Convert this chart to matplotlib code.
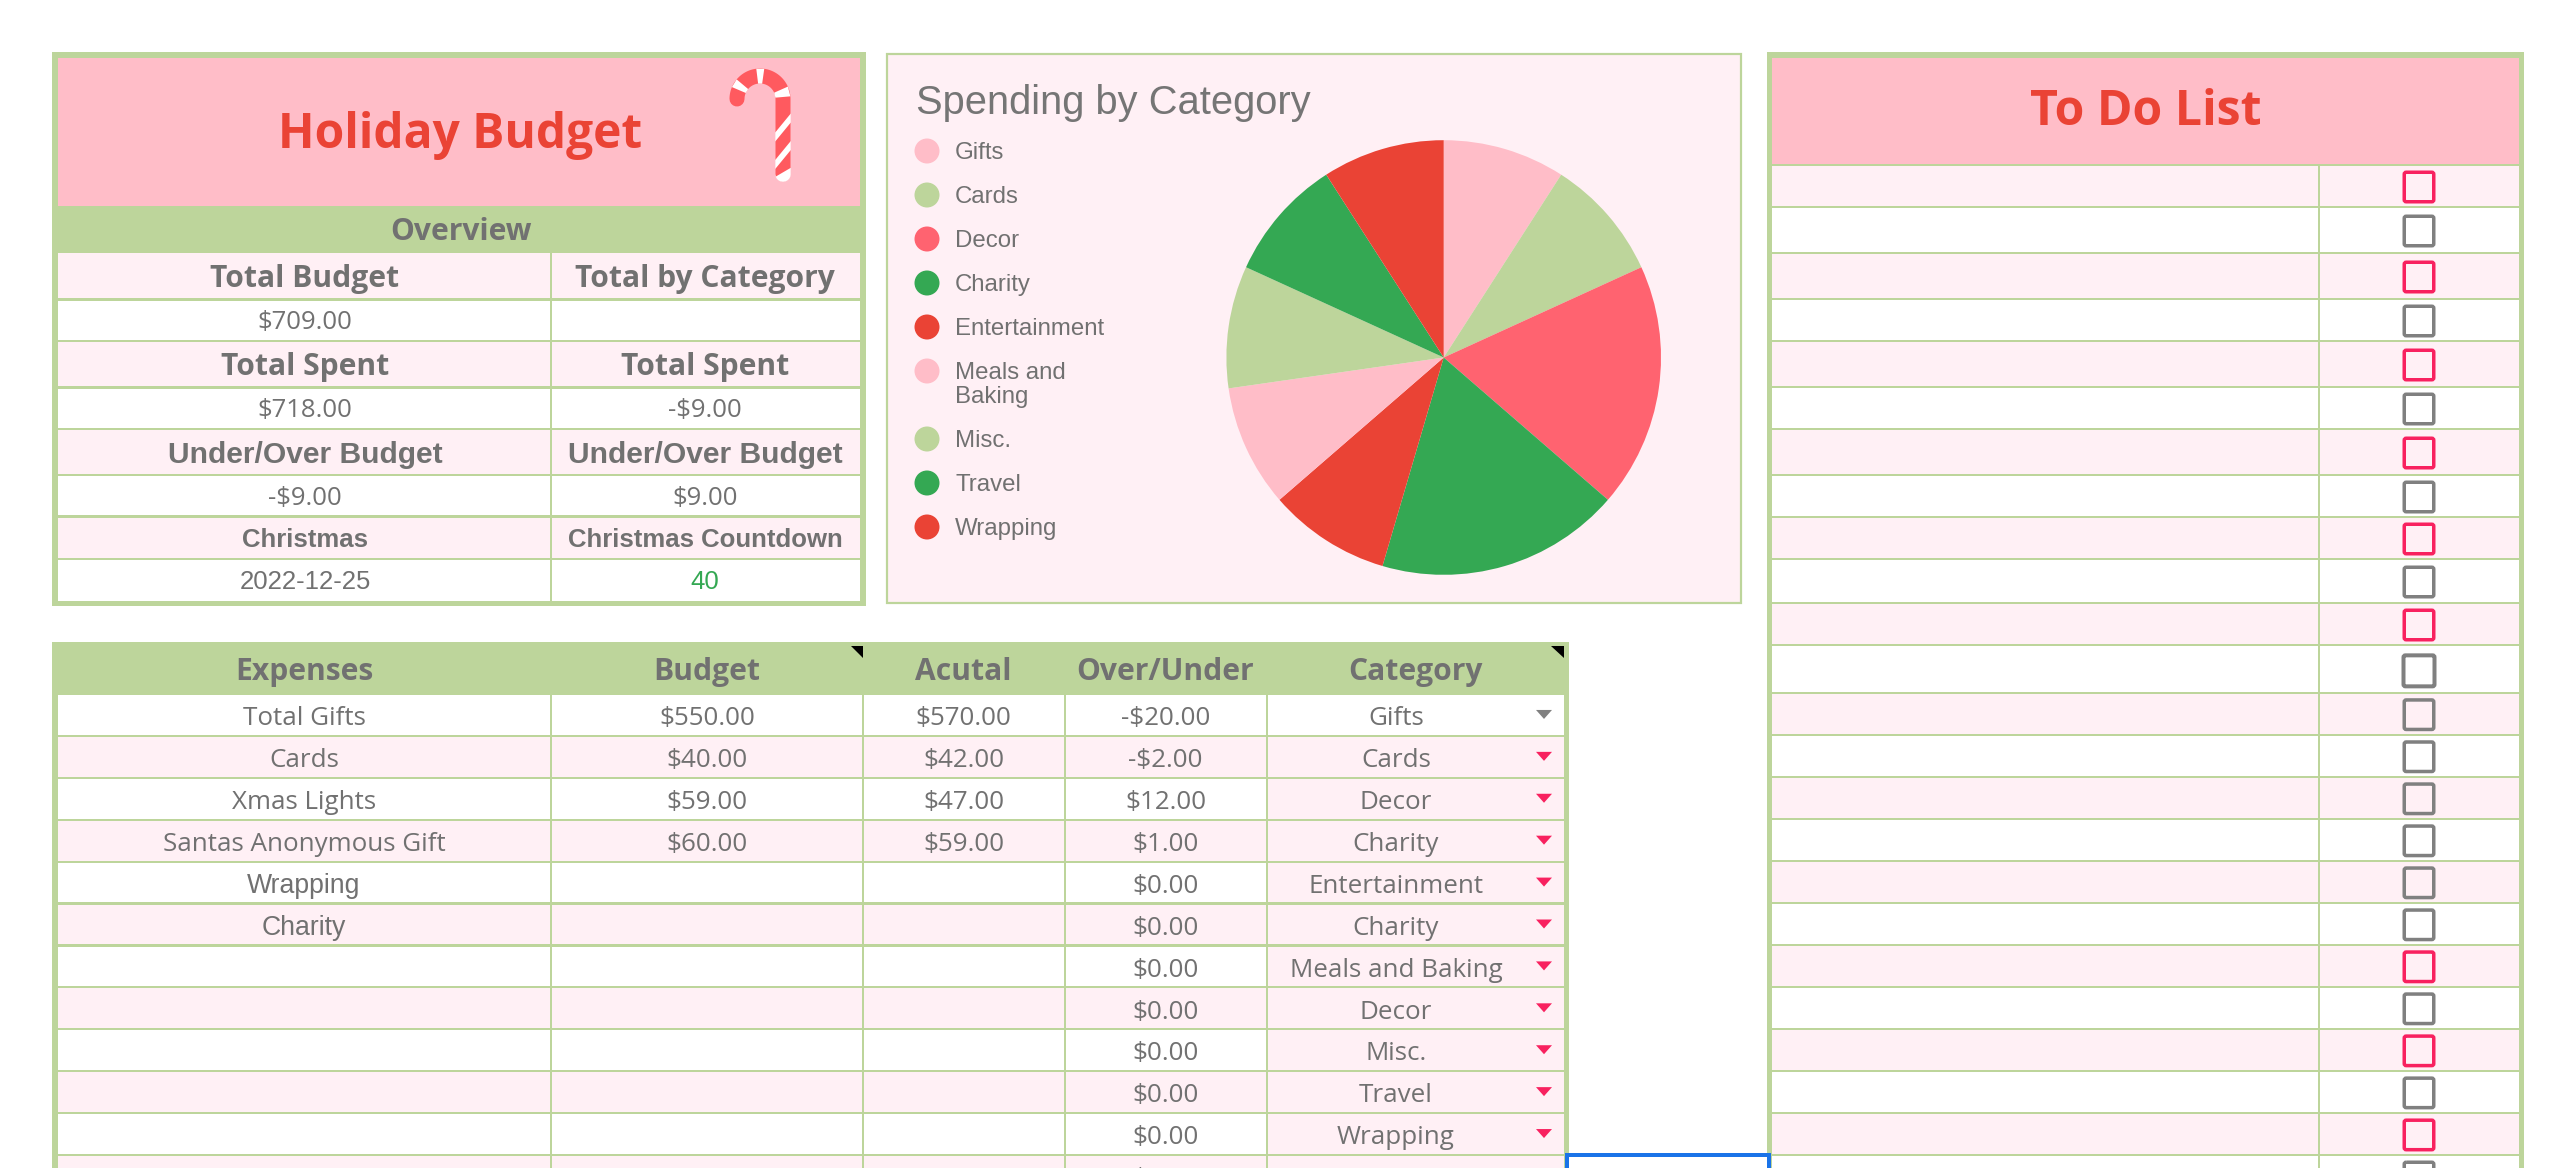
import matplotlib
matplotlib.use('Agg')
import matplotlib.pyplot as plt
from matplotlib.patches import Rectangle, Circle, Polygon, FancyBboxPatch
import numpy as np

# data
categories = ['Gifts', 'Cards', 'Decor', 'Charity', 'Entertainment', 'Meals and\nBaking', 'Misc.', 'Travel', 'Wrapping']
category_counts = [1, 1, 2, 2, 1, 1, 1, 1, 1]

overview_left = ['Total Budget', '$709.00', 'Total Spent', '$718.00', 'Under/Over Budget', '-$9.00', 'Christmas', '2022-12-25']
overview_right = ['Total by Category', '', 'Total Spent', '-$9.00', 'Under/Over Budget', '$9.00', 'Christmas Countdown', '40']

table_headers = ['Expenses', 'Budget', 'Acutal', 'Over/Under', 'Category']
expenses = ['Total Gifts', 'Cards', 'Xmas Lights', 'Santas Anonymous Gift', 'Wrapping', 'Charity']
budget = ['$550.00', '$40.00', '$59.00', '$60.00']
actual = ['$570.00', '$42.00', '$47.00', '$59.00']
over_under = ['-$20.00', '-$2.00', '$12.00', '$1.00'] + ['$0.00'] * 8
row_categories = ['Gifts', 'Cards', 'Decor', 'Charity', 'Entertainment', 'Charity',
                  'Meals and Baking', 'Decor', 'Misc.', 'Travel', 'Wrapping']

todo_checked = [1, 0, 1, 0, 1, 0, 1, 0, 1, 0, 1, 0, 0, 0, 0, 0, 0, 0, 1, 0, 1, 0, 1, 0]

# colours
GREEN = '#BDD59B'
HEADER_PINK = '#FFBDC8'
TINT = '#FFF0F5'
GREY = '#717171'
RED = '#EA4335'
HOT = '#F8215F'
BOX_GREY = '#808080'
pie_colors = ['#FFBDC8', '#BDD59B', '#FF6370', '#34A853', '#EA4335', '#FFBDC8', '#BDD59B', '#34A853', '#EA4335']

OPEN = 'Open Sans'
ARIAL = 'Liberation Sans'

W, H = 2574, 1168
fig = plt.figure(figsize=(W / 100, H / 100), dpi=100, facecolor='white')
ax = fig.add_axes([0, 0, 1, 1])
ax.set_xlim(0, W)
ax.set_ylim(H, 0)
ax.axis('off')


def rect(x0, y0, x1, y1, color, z=1):
    ax.add_patch(Rectangle((x0, y0), x1 - x0, y1 - y0, facecolor=color, edgecolor='none', zorder=z))


def hline(y, x0, x1, color=GREEN, w=2.2, z=3):
    rect(x0, y - w / 2, x1, y + w / 2, color, z)


def vline(x, y0, y1, color=GREEN, w=2, z=3):
    rect(x - w / 2, y0, x + w / 2, y1, color, z)


def label(x, yc, s, size, font=OPEN, bold=False, color=GREY, ha='center'):
    # yc is the middle of the capitals, so rows stay lined up whatever the descenders do
    px = size / 0.72
    ax.text(x, yc + 0.357 * px, s, fontsize=size, family=font, color=color, ha=ha, va='baseline',
            fontweight='bold' if bold else 'normal', zorder=6)


def arrow(xc, yc, color):
    ax.add_patch(Polygon([(xc - 8, yc - 4.5), (xc + 8, yc - 4.5), (xc, yc + 4.5)], facecolor=color, edgecolor='none', zorder=6))


def checkbox(xc, yc, color, side=29.5, lw=3.5):
    ax.add_patch(FancyBboxPatch((xc - side / 2 + 2, yc - side / 2 + 2), side - 4, side - 4,
                                boxstyle='round,pad=2,rounding_size=2', facecolor='none',
                                edgecolor=color, linewidth=lw * 0.72, zorder=6))


# overview panel
rect(52, 52, 866, 606, GREEN, 0)
rect(58, 58, 860, 206, HEADER_PINK)
label(460, 130.5, 'Holiday Budget', 34.5, bold=True, color=RED)
label(461, 229.5, 'Overview', 21.6, bold=True)

ov_edges = [253, 299.5, 341, 387.5, 429, 475, 516.5, 559, 601]
for i in range(8):
    y0, y1 = ov_edges[i], ov_edges[i + 1]
    rect(58, y0, 860, y1, TINT if i % 2 == 0 else 'white')
    if i > 0:
        hline(y0, 58, 860)
    yc = (y0 + y1) / 2
    font = OPEN
    bold = i % 2 == 0
    size = 21.6 if bold else 18.5
    if i == 4:
        font, size = ARIAL, 21.6
    if i >= 6:
        font = ARIAL
        size = 18.5
    label(305, yc, overview_left[i], size, font, bold)
    label(705, yc, overview_right[i], size, font, bold, color='#34A853' if i == 7 else GREY)
vline(550.5, 253, 601)

# candy cane on the header
cane_t = np.linspace(np.pi, 0, 60)
cane_x = np.r_[760 + 23 * np.cos(cane_t), 783]
cane_y = np.r_[99 - 23 * np.sin(cane_t), 174]
ax.plot(cane_x, cane_y, color='#FF5A5F', lw=15 * 0.72, solid_capstyle='round', zorder=4)
tip_t = np.linspace(0, np.pi, 30)
tip = np.c_[783 + 7.8 * np.cos(tip_t), 174 + 7.8 * np.sin(tip_t)]
ax.add_patch(Polygon(np.r_[tip, [(775.2, 176.9), (790.8, 167.8)]], facecolor='white', edgecolor='none', zorder=5))
for yl, yr in [(132.5, 113.5), (160, 141)]:
    ax.add_patch(Polygon([(775.2, yl), (790.8, yr), (790.8, yr + 9), (775.2, yl + 9)], facecolor='white', edgecolor='none', zorder=5))
for a0, a1 in [(140, 157), (82, 97), (5, 24)]:
    a = np.radians([a0, a1, a1, a0])
    r = np.array([15.5, 15.5, 30.5, 30.5])
    ax.add_patch(Polygon(np.c_[760 + r * np.cos(a), 99 - r * np.sin(a)], facecolor='white', edgecolor='none', zorder=5))

# chart panel
ax.add_patch(Rectangle((887, 54), 854, 549, facecolor=TINT, edgecolor=GREEN, linewidth=2.2 * 0.72, zorder=1))
label(915.5, 100, 'Spending by Category', 28.7, ARIAL, ha='left', color='#757575')
leg_y = 150.5
for name, col in zip(categories, pie_colors):
    ax.add_patch(Circle((927, leg_y + 0.5), 12.5, facecolor=col, edgecolor='none', zorder=5))
    for k, line in enumerate(name.split('\n')):
        label(955, leg_y + 24 * k, line, 17.3, ARIAL, ha='left')
    leg_y += 44 + 24 * name.count('\n')

pie_r = 217.3
pie_cx, pie_cy = 1443.7, 357.5
pie_half = pie_r * 1.25
pie_ax = fig.add_axes([(pie_cx - pie_half) / W, (H - pie_cy - pie_half) / H, 2 * pie_half / W, 2 * pie_half / H])
pie_ax.pie(category_counts, colors=pie_colors, startangle=90, counterclock=False, wedgeprops={'linewidth': 0})
pie_ax.patch.set_alpha(0)

# expenses table
rect(52, 642, 1569, H, GREEN, 0)
col_edges = [57.5, 551, 863, 1065, 1267, 1563.5]
row_h = (1155 - 694) / 11
n_rows = 12
for i in range(n_rows):
    y0 = 694 + i * row_h
    rect(57.5, y0, 1267, y0 + row_h, TINT if i % 2 == 1 else 'white')
    rect(1267, y0, 1563.5, y0 + row_h, TINT if i > 0 else 'white')
    hline(y0, 57.5, 1563.5)
    yc = y0 + row_h / 2 + 1
    if i < len(expenses):
        if expenses[i] in ('Wrapping', 'Charity'):
            label(304, yc, expenses[i], 19.2, ARIAL)
        else:
            label(304, yc, expenses[i], 18.7)
    if i < len(budget):
        label(707, yc, budget[i], 18.7)
        label(963.5, yc, actual[i], 18.7)
    label(1165.5, yc, over_under[i], 18.7)
    if i < len(row_categories):
        label(1396, yc, row_categories[i], 18.7)
        arrow(1544, yc - 1.5, BOX_GREY if i == 0 else HOT)
for x in col_edges[1:-1]:
    vline(x, 694, H)
header_x = [304, 707, 963.5, 1165.5, 1416]
for x, s in zip(header_x, table_headers):
    label(x, 669, s, 21.6, bold=True)
for x in [863, 1563.5]:
    ax.add_patch(Polygon([(x - 12.5, 646), (x, 646), (x, 658)], facecolor='black', edgecolor='none', zorder=6))

# to do panel
rect(1766.5, 52, 2524, H, GREEN, 0)
rect(1772, 57.7, 2518.5, 165, HEADER_PINK)
label(2145.5, 108, 'To Do List', 34.7, bold=True, color=RED)
todo_edges = [165, 207, 253, 299, 341, 387, 429, 475, 517, 559, 603, 645, 692.7, 734.7, 776.8,
              818.8, 860.8, 902.8, 944.8, 986.8, 1028.8, 1070.9, 1112.9, 1155, 1197]
for i in range(len(todo_edges) - 1):
    y0, y1 = todo_edges[i], todo_edges[i + 1]
    rect(1772, y0, 2518.5, y1, TINT if i % 2 == 0 else 'white')
    hline(y0, 1772, 2518.5)
    if i == 11:
        checkbox(2419, (y0 + y1) / 2 + 2, BOX_GREY, side=31, lw=4)
    else:
        checkbox(2419, (y0 + y1) / 2 + 1, HOT if todo_checked[i] else BOX_GREY)
vline(2318.7, 165, H)

# selected cell outline
hline(1155, 1565, 1771, color='#1A73E8', w=4, z=7)
vline(1567, 1155, H, color='#1A73E8', w=4, z=7)
vline(1769, 1155, H, color='#1A73E8', w=4, z=7)

fig.savefig('out.png', dpi=100, facecolor='white')
